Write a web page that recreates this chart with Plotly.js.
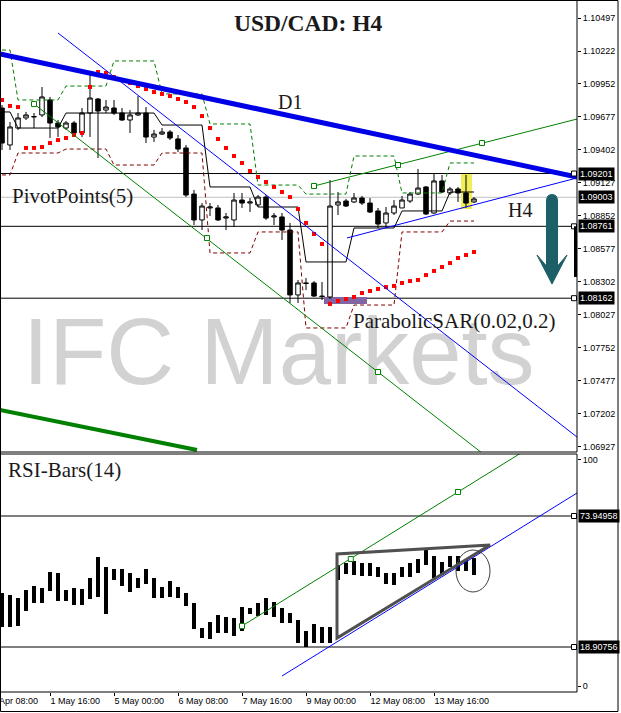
<!DOCTYPE html>
<html><head><meta charset="utf-8">
<script src="https://cdn.plot.ly/plotly-3.0.1.min.js"></script>
<style>html,body{margin:0;padding:0;background:#fff}#chart{width:621px;height:713px}</style>
</head><body><div id="chart"></div>
<script>
// ---- data ----
const bars = [0,1,2,3,4,5,6,7,8,9,10,11,12,13,14,15,16,17,18,19,20,21,22,23,24,25,26,27,28,29,30,31,32,33,34,35,36,37,38,39,40,41,42,43,44,45,46,47,48,49,50,51,52,53,54,55,56,57,58,59];
const openP = [1.09747,1.09439,1.09580,1.09664,1.09672,1.09689,1.09814,1.09622,1.09580,1.09622,
 1.09539,1.09705,1.09822,1.09730,1.09747,1.09705,1.09647,1.09689,1.09705,1.09505,
 1.09530,1.09547,1.09489,1.09414,1.09030,1.08814,1.08914,1.08914,1.08830,1.08814,
 1.08980,1.08955,1.08939,1.09005,1.08839,1.08839,1.08730,1.08189,1.08289,1.08289,
 1.08180,1.08172,1.08939,1.08972,1.08964,1.08997,1.08955,1.08889,1.08789,1.08872,
 1.08914,1.08972,1.09030,1.09089,1.08872,1.09139,1.09039,1.09072,1.09039,1.08964];
const highP = [1.09772,1.09630,1.09705,1.09714,1.09705,1.09922,1.09839,1.09647,1.09639,1.09639,
 1.09747,1.10022,1.09830,1.09814,1.09814,1.09747,1.09730,1.09847,1.09755,1.09564,
 1.09580,1.09564,1.09522,1.09439,1.09064,1.08955,1.08955,1.08939,1.08872,1.09039,
 1.09039,1.08997,1.09022,1.09022,1.08872,1.08872,1.08789,1.08314,1.08330,1.08305,
 1.08297,1.09147,1.09047,1.08989,1.09039,1.09014,1.08997,1.08914,1.08922,1.08980,
 1.09014,1.09047,1.09239,1.09097,1.09205,1.09189,1.09089,1.09089,1.09189,1.09005];
const lowP = [1.09397,1.09397,1.09564,1.09647,1.09580,1.09672,1.09497,1.09505,1.09564,1.09530,
 1.09505,1.09505,1.09330,1.09705,1.09689,1.09639,1.09539,1.09680,1.09455,1.09464,
 1.09522,1.09480,1.09380,1.09005,1.08772,1.08730,1.08847,1.08805,1.08730,1.08755,
 1.08914,1.08880,1.08922,1.08814,1.08772,1.08647,1.08122,1.08122,1.08230,1.08172,
 1.08147,1.08155,1.08855,1.08922,1.08955,1.08939,1.08872,1.08747,1.08747,1.08855,
 1.08914,1.08955,1.09022,1.08855,1.08864,1.09039,1.09022,1.08964,1.08914,1.08955];
const closeP = [1.09455,1.09589,1.09664,1.09689,1.09676,1.09839,1.09622,1.09589,1.09622,1.09539,
 1.09705,1.09830,1.09722,1.09755,1.09705,1.09647,1.09689,1.09705,1.09505,1.09530,
 1.09547,1.09497,1.09405,1.09022,1.08814,1.08930,1.08922,1.08814,1.08839,1.08980,
 1.08955,1.08964,1.09005,1.08830,1.08847,1.08730,1.08189,1.08289,1.08285,1.08180,
 1.08176,1.08930,1.08964,1.08930,1.08997,1.08955,1.08880,1.08780,1.08872,1.08930,
 1.08980,1.09030,1.09080,1.08864,1.09139,1.09047,1.09072,1.09039,1.08955,1.08989];
const pivotP = [1.09714,1.09714,1.09580,1.09580,1.09580,1.09580,1.09580,1.09580,1.09705,1.09705,
 1.09705,1.09705,1.09705,1.09705,1.09705,1.09705,1.09705,1.09705,1.09705,1.09705,
 1.09605,1.09605,1.09605,1.09605,1.09605,1.09605,1.09089,1.09089,1.09089,1.09089,
 1.09089,1.09089,1.08922,1.08922,1.08922,1.08922,1.08922,1.08922,1.08464,1.08464,
 1.08464,1.08464,1.08464,1.08464,1.08747,1.08747,1.08747,1.08747,1.08747,1.08747,
 1.08889,1.08889,1.08889,1.08889,1.08889,1.08889,1.09047,1.09047,1.09047,1.09047];
const r1P = [1.10230,1.10230,1.09814,1.09814,1.09814,1.09814,1.09814,1.09814,1.09930,1.09930,
 1.09930,1.09930,1.09930,1.09930,1.10139,1.10139,1.10139,1.10139,1.10139,1.10139,
 1.09864,1.09864,1.09864,1.09864,1.09864,1.09864,1.09614,1.09614,1.09614,1.09614,
 1.09614,1.09614,1.09105,1.09105,1.09105,1.09105,1.09105,1.09105,1.09030,1.09030,
 1.09030,1.09030,1.09030,1.09030,1.09347,1.09347,1.09347,1.09347,1.09347,1.09347,
 1.09039,1.09039,1.09039,1.09039,1.09039,1.09039,1.09289,1.09289,1.09289,1.09289];
const s1P = [1.09189,1.09189,1.09372,1.09372,1.09372,1.09372,1.09372,1.09372,1.09405,1.09405,
 1.09405,1.09405,1.09405,1.09405,1.09272,1.09272,1.09272,1.09272,1.09272,1.09272,
 1.09372,1.09372,1.09372,1.09372,1.09372,1.09372,1.08539,1.08539,1.08539,1.08539,
 1.08539,1.08539,1.08714,1.08714,1.08714,1.08714,1.08714,1.08714,1.07914,1.07914,
 1.07914,1.07914,1.07914,1.07914,1.08105,1.08105,1.08105,1.08105,1.08105,1.08105,
 1.08714,1.08714,1.08714,1.08714,1.08714,1.08714,1.08805,1.08805,1.08805,1.08805];
const sarP = [1.09814,1.09764,1.09755,1.09414,1.09414,1.09422,1.09455,1.09480,1.09497,1.09522,
 1.09539,1.09922,1.10047,1.10039,1.10005,1.09980,1.09955,1.09930,1.09905,1.09880,
 1.09864,1.09847,1.09822,1.09797,1.09755,1.09680,1.09580,1.09489,1.09414,1.09347,
 1.09289,1.09222,1.09172,1.09130,1.09089,1.09047,1.09005,1.08905,1.08789,1.08697,
 1.08614,1.08114,1.08139,1.08155,1.08172,1.08205,1.08222,1.08239,1.08255,1.08264,
 1.08289,1.08305,1.08314,1.08355,1.08389,1.08422,1.08455,1.08497,1.08522,1.08547];
const rsiHigh = [41.60,40.76,39.50,42.86,44.54,43.70,50.42,50.00,42.86,43.70,
 43.28,47.90,56.72,52.52,51.68,51.68,50.00,47.90,51.68,47.90,
 44.12,46.64,44.12,41.60,37.39,26.89,29.41,32.35,31.51,31.09,
 35.71,35.29,37.39,39.50,37.82,35.29,33.19,30.25,25.63,28.57,
 27.31,27.31,53.36,54.20,55.04,54.20,54.20,52.52,50.00,50.00,
 52.52,54.20,55.88,59.66,57.14,54.62,57.14,57.14,55.46,56.30];
const rsiLow = [27.31,27.31,27.73,34.03,37.39,37.39,42.44,38.24,38.24,36.55,
 36.55,39.08,39.92,32.77,47.06,44.54,42.02,43.70,45.38,39.50,
 39.50,39.92,39.50,36.13,26.47,22.69,22.27,24.79,24.79,23.53,
 25.63,32.77,31.93,32.35,31.51,28.99,28.99,20.59,18.91,20.59,
 20.59,20.59,47.06,49.58,49.16,48.74,48.74,48.32,45.38,44.96,
 48.32,48.32,50.00,53.36,47.90,49.16,52.52,50.84,50.84,49.16];

const priceTickVals = [1.10497,1.10222,1.09952,1.09677,1.09402,1.09127,1.08852,1.08577,1.08302,1.08027,1.07752,1.07477,1.07202,1.06927];
const priceTickText = ['1.10497','1.10222','1.09952','1.09677','1.09402','1.09127','1.08852','1.08577','1.08302','1.08027','1.07752','1.07477','1.07202','1.06927'];
const timeTickVals = [6,14,22,30,38,46,54];
const timeTickText = ['1 May 16:00','5 May 00:00','6 May 08:00','7 May 16:00','9 May 00:00','12 May 08:00','13 May 16:00'];
const firstTimeLabel = '30 Apr 08:00';
const rsiTickVals = [97.5, 2.5];
const rsiTickText = ['100','0'];

const levelVals = [1.09201, 1.08761, 1.08162];
const levelText = ['1.09201','1.08761','1.08162'];
const bidVal = 1.09003, bidText = '1.09003';
const rsiLevelVals = [73.94958, 18.90756];
const rsiLevelText = ['73.94958','18.90756'];

// trendlines (endpoints)
const d1X = [-0.25, 71.875], d1Y = [1.10197, 1.09172];
const chanBlueX = [7, 71.875], chanBlueY = [1.10372, 1.07005];
const riseBlueX = [43.125, 71.875], riseBlueY = [1.08664, 1.09164];
const riseGreenX = [39, 71.875], riseGreenY = [1.09097, 1.09655];
const riseGreenPtsX = [39, 49.5, 60], riseGreenPtsY = [1.09097, 1.09272, 1.09455];
const chanGreenX = [4, 62.25], chanGreenY = [1.09780, 1.06755];
const chanGreenPtsX = [4, 25.625, 47], chanGreenPtsY = [1.09780, 1.08664, 1.07547];
const weekGreenX = [-0.25, 24.375], weekGreenY = [1.07230, 1.06897];
const rsiGreenX = [30, 65], rsiGreenY = [27.73, 100.7];
const rsiGreenPtsX = [30, 43.6, 57], rsiGreenPtsY = [27.73, 55.88, 84.03];
const rsiBlueX = [35, 71.875], rsiBlueY = [6.72, 83.61];

// ---- traces ----
const serif = 'Liberation Serif, Times New Roman, serif';
const sans = 'Liberation Sans, Arial, sans-serif';
const traces = [];
traces.push({type:'scatter', mode:'text', x:[2.6], y:[1.07647], text:['IFC Markets'], textposition:'middle right',
  textfont:{family:sans, size:94, color:'#d2d2d2'}, hoverinfo:'skip', cliponaxis:false});
traces.push({type:'scatter', mode:'lines', x:bars, y:r1P, line:{color:'#008000', width:1, dash:'4px,3px'}, hoverinfo:'skip'});
traces.push({type:'scatter', mode:'lines', x:bars, y:s1P, line:{color:'#800000', width:1, dash:'4px,3px'}, hoverinfo:'skip'});
traces.push({type:'scatter', mode:'lines', x:bars, y:pivotP, line:{color:'#000', width:1}, hoverinfo:'skip'});
traces.push({type:'candlestick', x:bars, open:openP, high:highP, low:lowP, close:closeP,
  increasing:{line:{color:'#000', width:1}, fillcolor:'#fff'},
  decreasing:{line:{color:'#000', width:1}, fillcolor:'#000'}, whiskerwidth:0, hoverinfo:'skip'});
traces.push({type:'scatter', mode:'markers', x:bars, y:sarP, marker:{symbol:'square', size:4, color:'#ff0000'}, hoverinfo:'skip'});
traces.push({type:'scatter', mode:'lines', x:weekGreenX, y:weekGreenY, line:{color:'#008000', width:4}, hoverinfo:'skip'});
traces.push({type:'scatter', mode:'lines', x:chanGreenX, y:chanGreenY, line:{color:'#008000', width:1}, hoverinfo:'skip'});
traces.push({type:'scatter', mode:'markers', x:chanGreenPtsX, y:chanGreenPtsY, marker:{symbol:'square', size:5, color:'#fff', line:{color:'#008000', width:1}}, hoverinfo:'skip'});
traces.push({type:'scatter', mode:'lines', x:riseGreenX, y:riseGreenY, line:{color:'#008000', width:1}, hoverinfo:'skip'});
traces.push({type:'scatter', mode:'markers', x:riseGreenPtsX, y:riseGreenPtsY, marker:{symbol:'square', size:5, color:'#fff', line:{color:'#008000', width:1}}, hoverinfo:'skip'});
traces.push({type:'scatter', mode:'lines', x:chanBlueX, y:chanBlueY, line:{color:'#0000ff', width:1}, hoverinfo:'skip'});
traces.push({type:'scatter', mode:'lines', x:riseBlueX, y:riseBlueY, line:{color:'#0000ff', width:1}, hoverinfo:'skip'});
traces.push({type:'scatter', mode:'lines', x:d1X, y:d1Y, line:{color:'#0000e6', width:5}, hoverinfo:'skip'});
traces.push({type:'scatter', mode:'markers', x:[71.5,71.5,71.5], y:levelVals, cliponaxis:false,
  marker:{symbol:'square', size:5, color:'#fff', line:{color:'#000', width:1}}, hoverinfo:'skip'});
// RSI panel
traces.push({type:'bar', x:bars, base:rsiLow, y:rsiHigh.map((h,i)=>h-rsiLow[i]), width:0.5, yaxis:'y2',
  marker:{color:'#000', line:{width:0}}, hoverinfo:'skip'});
traces.push({type:'scatter', mode:'lines', x:rsiGreenX, y:rsiGreenY, yaxis:'y2', line:{color:'#008000', width:1}, hoverinfo:'skip'});
traces.push({type:'scatter', mode:'markers', x:rsiGreenPtsX, y:rsiGreenPtsY, yaxis:'y2', marker:{symbol:'square', size:5, color:'#fff', line:{color:'#008000', width:1}}, hoverinfo:'skip'});
traces.push({type:'scatter', mode:'lines', x:rsiBlueX, y:rsiBlueY, yaxis:'y2', line:{color:'#0000ff', width:1}, hoverinfo:'skip'});
traces.push({type:'scatter', mode:'markers', x:[71.5,71.5], y:rsiLevelVals, yaxis:'y2', cliponaxis:false,
  marker:{symbol:'square', size:5, color:'#fff', line:{color:'#000', width:1}}, hoverinfo:'skip'});

// ---- layout helpers ----
const W = 577, H = 692;
const px = v => v / W;
const py = v => (H - v) / H;
const shapes = [];
levelVals.forEach(v => shapes.push({type:'line', xref:'paper', yref:'y', x0:0, x1:1, y0:v, y1:v, line:{color:'#000', width:1}, layer:'below'}));
shapes.push({type:'line', xref:'paper', yref:'y', x0:0, x1:1, y0:bidVal, y1:bidVal, line:{color:'#c0c0c0', width:1}, layer:'below'});
rsiLevelVals.forEach(v => shapes.push({type:'line', xref:'paper', yref:'y2', x0:0, x1:1, y0:v, y1:v, line:{color:'#000', width:1}, layer:'below'}));
// yellow highlight & purple box
shapes.push({type:'rect', xref:'x', yref:'y', x0:57.375, x1:58.75, y0:1.08905, y1:1.09197, fillcolor:'#f0ef5a', line:{width:0}, layer:'below'});
shapes.push({type:'rect', xref:'x', yref:'y', x0:40.25, x1:45.625, y0:1.08114, y1:1.08172, fillcolor:'#8266a3', line:{width:0}, layer:'below'});
// arrow
shapes.push({type:'path', xref:'x', yref:'y', fillcolor:'#1d5f66', line:{color:'#1d5f66', width:1},
  path:'M 68.0625,1.08972 L 68.0625,1.08430 L 66.875,1.08522 L 68.75,1.08280 L 70.625,1.08522 L 69.4375,1.08430 L 69.4375,1.08972 Q 69.4375,1.09026 68.75,1.09026 Q 68.0625,1.09026 68.0625,1.08972 Z'});
// black bar on the price scale
shapes.push({type:'line', xref:'paper', yref:'y', x0:px(575.5), x1:px(575.5), y0:1.08761, y1:1.08339, line:{color:'#000', width:3}});
// RSI triangle and ellipse
shapes.push({type:'path', xref:'x', yref:'y2', path:'M 41.875,57.98 L 41.875,22.69 L 61,61.76 Z', line:{color:'#505050', width:3}});
shapes.push({type:'circle', xref:'x', yref:'y2', x0:56.75, x1:61, y0:42.02, y1:59.66, line:{color:'#404040', width:1}});
// frames
shapes.push({type:'rect', xref:'paper', yref:'paper', x0:0, x1:1, y0:py(452), y1:1, line:{color:'#000', width:1}});
shapes.push({type:'rect', xref:'paper', yref:'paper', x0:0, x1:1, y0:0, y1:py(454), line:{color:'#000', width:1}});
shapes.push({type:'rect', xref:'paper', yref:'paper', x0:px(0.5), x1:px(618), y0:py(711.5), y1:py(0.5), line:{color:'#000', width:1}});

const ann = [];
const txt = (t, x, y, xa, size, bold) => ann.push({text: bold ? '<b>'+t+'</b>' : t, xref:'paper', yref:'paper', x:px(x), y:py(y),
  xanchor:xa, yanchor:'middle', showarrow:false, borderpad:0, font:{family:serif, size:size, color:'#1a1a1a'}});
txt('USD/CAD: H4', 307.5, 23, 'center', 23.5, true);
txt('D1', 289.5, 101.5, 'center', 20);
txt('PivotPoints(5)', 11, 195.5, 'left', 21);
txt('H4', 520, 209.5, 'center', 20);
txt('ParabolicSAR(0.02,0.2)', 352, 320.5, 'left', 21);
txt('RSI-Bars(14)', 7, 470, 'left', 21);
const boxLab = (t, y, yref) => ann.push({text:t, xref:'paper', yref:yref, x:1, y:y, xanchor:'left', yanchor:'middle', xshift:1,
  showarrow:false, bgcolor:'#000', borderpad:1, font:{family:sans, size:9, color:'#fff'}});
levelVals.forEach((v,i) => boxLab(levelText[i], v, 'y'));
boxLab(bidText, bidVal, 'y');
rsiLevelVals.forEach((v,i) => boxLab(rsiLevelText[i], v, 'y2'));
ann.push({text:firstTimeLabel, xref:'paper', yref:'paper', x:px(-14), y:py(701), xanchor:'left', yanchor:'middle', showarrow:false,
  borderpad:0, font:{family:sans, size:9, color:'#000'}});

const tickFont = {family:sans, size:9, color:'#000'};
const layout = {
  width:621, height:713, margin:{l:0, r:44, t:0, b:21, pad:0},
  paper_bgcolor:'#fff', plot_bgcolor:'#fff', showlegend:false,
  boxgap:0.25, boxgroupgap:0.25, bargap:0,
  xaxis:{range:[-0.25, 71.875], anchor:'y2', showgrid:false, zeroline:false, showline:false,
    tickvals:timeTickVals, ticktext:timeTickText, ticks:'outside', ticklen:3, tickcolor:'#000',
    ticklabelposition:'outside right', tickfont:tickFont, rangeslider:{visible:false}, fixedrange:true},
  yaxis:{domain:[py(452), 1], range:[1.068803, 1.10647], side:'right', anchor:'x', showgrid:false, zeroline:false,
    tickvals:priceTickVals, ticktext:priceTickText, ticks:'outside', ticklen:3, tickcolor:'#000', tickfont:tickFont, showline:false, fixedrange:true},
  yaxis2:{domain:[0, py(454)], range:[0, 100], side:'right', anchor:'x', showgrid:false, zeroline:false,
    tickvals:rsiTickVals, ticktext:rsiTickText, ticks:'outside', ticklen:3, tickcolor:'#000', tickfont:tickFont, showline:false, fixedrange:true},
  shapes:shapes, annotations:ann
};
Plotly.newPlot('chart', traces, layout, {staticPlot:true, displayModeBar:false});
</script>
</body></html>
